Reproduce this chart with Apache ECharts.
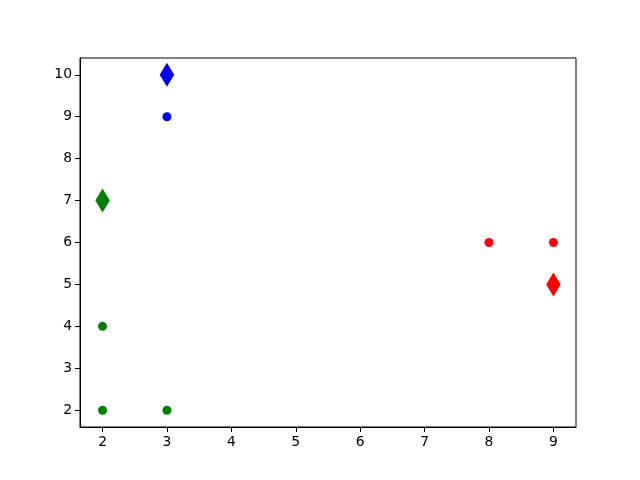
<!DOCTYPE html>
<html>
<head>
<meta charset="utf-8">
<script src="https://cdn.jsdelivr.net/npm/echarts@6/dist/echarts.min.js"></script>
<style>html,body{margin:0;padding:0;background:#fff}#c{width:640px;height:480px}</style>
</head>
<body>
<div id="c"></div>
<script>
const xTicks = [2, 3, 4, 5, 6, 7, 8, 9];
const yTicks = [2, 3, 4, 5, 6, 7, 8, 9, 10];
const greenPoints = [[2, 2], [2, 4], [3, 2]];
const greenCentroid = [[2, 7]];
const bluePoints = [[3, 9]];
const blueCentroid = [[3, 10]];
const redPoints = [[8, 6], [9, 6]];
const redCentroid = [[9, 5]];

const font = 'DejaVu Sans';
const chart = echarts.init(document.getElementById('c'), null, {renderer: 'canvas'});
const axisCommon = {
  axisLine: {show: true, onZero: false, lineStyle: {color: '#000', width: 1}},
  axisTick: {show: true, inside: false, length: 5, lineStyle: {color: '#000', width: 1}},
  axisLabel: {color: '#000', fontSize: 13.9, fontFamily: font, margin: 8},
  splitLine: {show: false}
};
function pts(data, color, symbol, size) {
  return {type: 'scatter', data: data, symbol: symbol, symbolSize: size,
    itemStyle: {color: color, opacity: 1}, animation: false, silent: true};
}
chart.setOption({
  animation: false,
  grid: {left: 80, right: 64, top: 58, bottom: 53, show: true, borderColor: '#000', borderWidth: 1, containLabel: false},
  xAxis: Object.assign({}, axisCommon, {
    type: 'value', min: 1.65, max: 9.35,
    axisTick: Object.assign({}, axisCommon.axisTick, {customValues: xTicks}),
    axisLabel: Object.assign({}, axisCommon.axisLabel, {customValues: xTicks})
  }),
  yAxis: Object.assign({}, axisCommon, {
    type: 'value', min: 1.6, max: 10.4,
    axisTick: Object.assign({}, axisCommon.axisTick, {customValues: yTicks}),
    axisLabel: Object.assign({}, axisCommon.axisLabel, {customValues: yTicks})
  }),
  series: [
    pts(greenPoints, '#008000', 'circle', 9),
    pts(bluePoints, '#0000ff', 'circle', 9),
    pts(redPoints, '#ff0000', 'circle', 9),
    pts(greenCentroid, '#008000', 'diamond', [14.5, 24]),
    pts(blueCentroid, '#0000ff', 'diamond', [14.5, 24]),
    pts(redCentroid, '#ff0000', 'diamond', [14.5, 24])
  ]
});
</script>
</body>
</html>
